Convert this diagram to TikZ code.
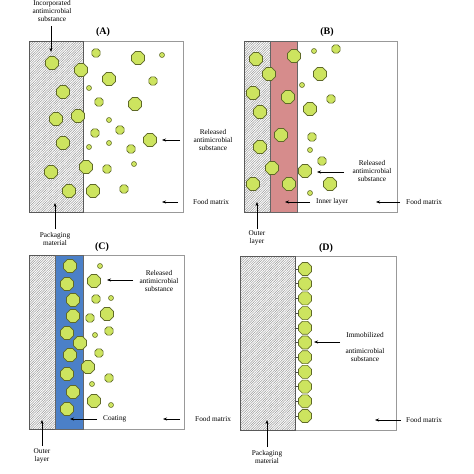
\documentclass[tikz,border=0pt]{standalone}
\usepackage{fontspec}
\setmainfont{Liberation Serif}
\usetikzlibrary{patterns.meta,shapes.geometric,arrows.meta}
\definecolor{blobfill}{RGB}{205,228,95}
\definecolor{blobedge}{RGB}{95,105,40}
\definecolor{pinklayer}{RGB}{214,140,140}
\definecolor{bluelayer}{RGB}{75,128,200}
\tikzset{
  blob/.style={regular polygon, regular polygon sides=8, draw=blobedge, fill=blobfill,
    line width=0.6pt, inner sep=0pt, minimum size=#1},
  panelbox/.style={draw=gray!80, line width=0.7pt, fill=white},
  hatch/.style={pattern={Lines[angle=45,distance=1.7pt,line width=0.5pt]}, pattern color=gray!80},
  hatchedge/.style={draw=black!65, line width=0.6pt},
  lab/.style={font=\fontsize{7.3}{8}\selectfont, align=center, inner sep=0pt},
  ttl/.style={font=\bfseries\fontsize{10}{12}\selectfont, inner sep=0pt},
  pointer/.style={-{Stealth[length=4pt,width=3pt]}, line width=0.55pt, black},
}
\begin{document}
\begin{tikzpicture}[x=1pt,y=-1pt]
\useasboundingbox (0,0) rectangle (474,474);
\fill[white] (0,0) rectangle (474,474);

% ================= Panel A =================
\draw[panelbox] (29,41) rectangle (183,212);
\fill[hatch] (29,41) rectangle (83,212);
\draw[hatchedge] (29,41) rectangle (83,212);
\node[ttl] (tA) at (103,32) {(A)};
\foreach \x/\y/\s [count=\i] in {52/63/14,81/70/14,96/53/9,138/58/14,162/55/5,109/79/14,153/81/9,
  89/88/5,63/92/14,99/102/9,135/104/14,56/119/14,78/116/14,109/120/5,95/133/9,120/130/9,
  63/143/14,150/140/14,89/147/5,109/143/5,131/149/9,86/167/14,107/169/9,134/164/5,
  51/172/14,69/191/14,93/191/14,124/189/9}
  \node[blob=\s] (a\i) at (\x,\y) {};
\node[lab] (incA) at (52,11) {Incorporated\\antimicrobial\\substance};
\coordinate (incAs) at (51,26); \coordinate (incAtip) at (51,52);
\draw[pointer] (incAs) -- (incAtip);
\node[lab] (relA) at (213,140) {Released\\antimicrobial\\substance};
\coordinate (relAs) at (180,140); \coordinate (relAt) at (162,140);
\draw[pointer] (relAs) -- (relAt);
\node[lab,anchor=west] (fmA) at (193,202) {Food matrix};
\coordinate (fmAs) at (178,202); \coordinate (fmAt) at (162,202);
\draw[pointer] (fmAs) -- (fmAt);
\node[lab] (pkA) at (55,239) {Packaging\\material};
\coordinate (pkAs) at (55,229); \coordinate (pkAt) at (55,203);
\draw[pointer] (pkAs) -- (pkAt);

% ================= Panel B =================
\draw[panelbox] (244,41) rectangle (397,212);
\fill[hatch] (244,41) rectangle (270,212);
\draw[hatchedge] (244,41) rectangle (270,212);
\draw[fill=pinklayer, draw=black!60, line width=0.6pt] (270,41) rectangle (297,212);
\node[ttl] (tB) at (327,32) {(B)};
\foreach \x/\y/\s [count=\i] in {256/59/14,294/56/14,269/74/14,314/51/5,336/49/9,320/74/14,
  253/93/14,288/97/14,302/85/5,331/99/9,260/112/14,310/109/14,281/135/14,312/137/9,
  260/147/14,310/150/5,322/161/9,272/168/14,305/171/14,253/184/14,289/184/14,330/184/14,310/193/5}
  \node[blob=\s] (b\i) at (\x,\y) {};
\node[lab] (relB) at (372,171) {Released\\antimicrobial\\substance};
\coordinate (relBs) at (344,172); \coordinate (relBt) at (317,172);
\draw[pointer] (relBs) -- (relBt);
\node[lab,anchor=west] (inB) at (316,202) {Inner layer};
\coordinate (inBs) at (310,202); \coordinate (inBt) at (285,202);
\draw[pointer] (inBs) -- (inBt);
\node[lab,anchor=west] (fmB) at (406,202) {Food matrix};
\coordinate (fmBs) at (400,202); \coordinate (fmBt) at (376,202);
\draw[pointer] (fmBs) -- (fmBt);
\node[lab] (olB) at (257,238) {Outer\\layer};
\coordinate (olBs) at (257,229); \coordinate (olBt) at (257,202);
\draw[pointer] (olBs) -- (olBt);

% ================= Panel C =================
\draw[panelbox] (29,255) rectangle (184,429);
\fill[hatch] (29,255) rectangle (55,429);
\draw[hatchedge] (29,255) rectangle (55,429);
\draw[fill=bluelayer, draw=black!60, line width=0.6pt] (55,255) rectangle (83,429);
\node[ttl] (tC) at (102,247) {(C)};
\foreach \x/\y/\s [count=\i] in {70/266/14,100/266/5,94/281/14,67/284/14,73/300/14,96/299/9,
  111/298/5,73/316/14,90/318/9,107/314/14,67/333/14,95/335/5,109/331/9,80/343/14,
  70/355/14,99/353/9,88/367/14,67/374/14,92/384/5,109/378/9,73/392/14,94/401/14,111/405/5,67/409/14}
  \node[blob=\s] (c\i) at (\x,\y) {};
\node[lab] (relC) at (159,281) {Released\\antimicrobial\\substance};
\coordinate (relCs) at (133,280); \coordinate (relCt) at (107,280);
\draw[pointer] (relCs) -- (relCt);
\node[lab,anchor=west] (coC) at (103,419) {Coating};
\coordinate (coCs) at (97,419); \coordinate (coCt) at (70,419);
\draw[pointer] (coCs) -- (coCt);
\node[lab,anchor=west] (fmC) at (195,419) {Food matrix};
\coordinate (fmCs) at (180,419); \coordinate (fmCt) at (163,419);
\draw[pointer] (fmCs) -- (fmCt);
\node[lab] (olC) at (42,456) {Outer\\layer};
\coordinate (olCs) at (42,446); \coordinate (olCt) at (42,420);
\draw[pointer] (olCs) -- (olCt);

% ================= Panel D =================
\draw[panelbox] (240,256) rectangle (396,430);
\fill[hatch] (240,256) rectangle (295,430);
\draw[hatchedge] (240,256) rectangle (295,430);
\node[ttl] (tD) at (326,248) {(D)};
\foreach \i in {1,...,11} {
  \node[blob=14] (d\i) at (305,{269+(\i-1)*14.7}) {};
  \draw[black!70, line width=0.5pt] (d\i.west) -- ++(-3.5,0);
}
\node[lab] (imD) at (365,335) {Immobilized};
\node[lab] (imD2) at (365,354.5) {antimicrobial\\substance};
\coordinate (imDs) at (340,342); \coordinate (imDt) at (314,342);
\draw[pointer] (imDs) -- (imDt);
\node[lab,anchor=west] (fmD) at (406,420) {Food matrix};
\coordinate (fmDs) at (401,420); \coordinate (fmDt) at (375,420);
\draw[pointer] (fmDs) -- (fmDt);
\node[lab] (pkD) at (267,457) {Packaging\\material};
\coordinate (pkDs) at (267,447); \coordinate (pkDt) at (267,420);
\draw[pointer] (pkDs) -- (pkDt);
\end{tikzpicture}
\end{document}
